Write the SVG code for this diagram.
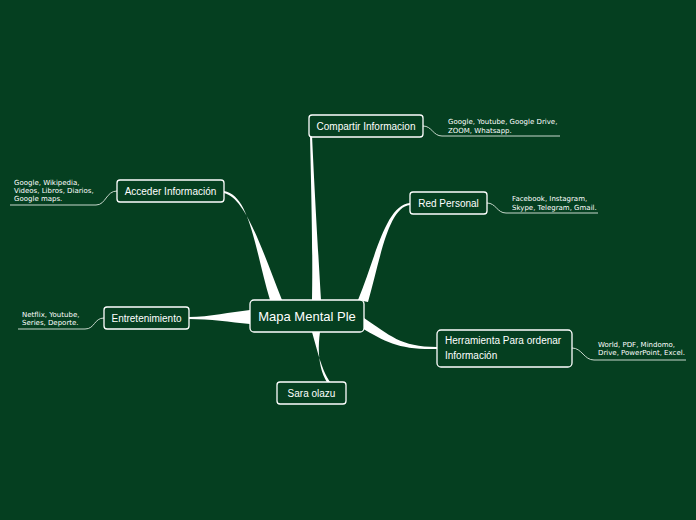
<svg xmlns="http://www.w3.org/2000/svg" width="696" height="520" viewBox="0 0 696 520">
<style>
.n rect{fill:#053f20;stroke:#fff;stroke-width:1.3}
.n text{fill:#fff;font-family:"Liberation Sans",sans-serif;font-size:10px}
.c path{fill:#fff}
.l path{fill:none;stroke:#c8d8cc;stroke-width:1}
.t{fill:#fff;font-family:"DejaVu Sans",sans-serif;font-size:7px}
</style>
<rect width="696" height="520" fill="#053f20"/>
<g class="c">
<path d="M312,300 C313,250 311,180 310,135 L312,135 C314,180 318,250 321,300 Z"/>
<path d="M358,300 C375,260 385,205 410,203 L410,205 C388,207 380,260 368,302 Z"/>
<path d="M270,300 C255,250 250,195 224,191 L224,193 C246,198 262,250 282,300 Z"/>
<path d="M250,310 C230,312 210,317 189,317 L189,319 C210,319 230,322 250,324 Z"/>
<path d="M364,318 C390,335 400,347 437,347 L437,349 C400,350 385,342 362,328 Z"/>
<path d="M312,332 C320,360 325,385 342,392 L342,393.5 C322,388 316,360 320,332 Z"/>
</g>
<g class="l">
<path d="M423,126 C432,126 433,136 442,136 L560,136"/>
<path d="M487,203 C496,203 497,213 506,213 L598,213"/>
<path d="M117,191 C106,191 106,205 96,205 L10,205"/>
<path d="M104,318 C94,318 95,329 85,329 L18,329"/>
<path d="M572,348 C582,348 584,360 594,360 L686,360"/>
</g>
<g class="t">
<text x="448" y="124">Google, Youtube, Google Drive,</text><text x="448" y="133">ZOOM, Whatsapp.</text>
<text x="512" y="201">Facebook, Instagram,</text><text x="512" y="210">Skype, Telegram, Gmail.</text>
<text x="14" y="185">Google, Wikipedia,</text><text x="14" y="193">Videos, Libros, Diarios,</text><text x="14" y="201">Google maps.</text>
<text x="22" y="317">Netflix, Youtube,</text><text x="22" y="325">Series, Deporte.</text>
<text x="598" y="347">World, PDF, Mindomo,</text><text x="598" y="355">Drive, PowerPoint, Excel.</text>
</g>
<g id="central" class="n"><rect x="250" y="300" width="114" height="32" rx="4"/><text x="307" y="321" text-anchor="middle" style="font-size:13px">Mapa Mental Ple</text></g>
<g id="compartir" class="n"><rect x="309" y="115" width="114" height="22" rx="3"/><text x="366" y="130" text-anchor="middle">Compartir Informacion</text></g>
<g id="red" class="n"><rect x="410" y="192" width="77" height="22" rx="3"/><text x="448.5" y="207" text-anchor="middle">Red Personal</text></g>
<g id="acceder" class="n"><rect x="117" y="180" width="107" height="22" rx="3"/><text x="170.5" y="195" text-anchor="middle">Acceder Información</text></g>
<g id="entre" class="n"><rect x="104" y="307" width="85" height="22" rx="3"/><text x="146.5" y="322" text-anchor="middle">Entretenimiento</text></g>
<g id="herr" class="n"><rect x="437" y="330" width="135" height="37" rx="4"/><text x="445" y="344">Herramienta Para ordenar</text><text x="445" y="359">Información</text></g>
<g id="sara" class="n"><rect x="277" y="382" width="69" height="22" rx="3"/><text x="311.5" y="397" text-anchor="middle">Sara olazu</text></g>
</svg>
